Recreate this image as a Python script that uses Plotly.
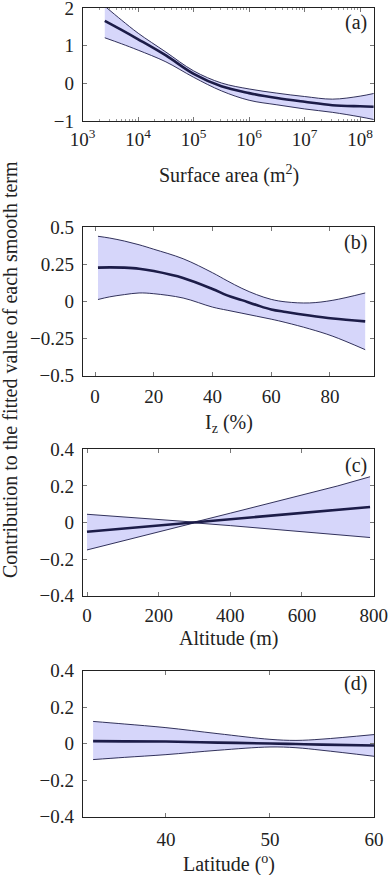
import plotly.graph_objects as go

# ---- data ----
# (a) Surface area (m^2)
area = [2.5e3, 5e3, 1e4, 3.16e4, 1e5, 3.16e5, 1e6, 3.16e6, 1e7, 3.16e7, 1e8, 1.75e8]
area_mean = [1.66, 1.42, 1.17, 0.74, 0.25, -0.08, -0.26, -0.39, -0.49, -0.58, -0.61, -0.62]
area_upper = [2.05, 1.68, 1.33, 0.83, 0.33, 0.01, -0.15, -0.26, -0.35, -0.42, -0.34, -0.27]
area_lower = [1.21, 1.05, 0.88, 0.57, 0.16, -0.20, -0.45, -0.57, -0.68, -0.77, -0.89, -0.96]

# (b) I_z (%)
iz = [1, 5, 10, 15, 20, 30, 40, 45, 50, 55, 60, 65, 73, 81, 92]
iz_mean = [0.226, 0.228, 0.226, 0.219, 0.203, 0.157, 0.083, 0.040, 0.008, -0.025, -0.055, -0.072, -0.096, -0.116, -0.135]
iz_upper = [0.437, 0.425, 0.405, 0.380, 0.350, 0.286, 0.192, 0.138, 0.087, 0.045, 0.013, -0.004, -0.011, 0.007, 0.056]
iz_lower = [0.012, 0.030, 0.045, 0.056, 0.051, 0.022, -0.039, -0.060, -0.080, -0.100, -0.120, -0.143, -0.185, -0.235, -0.325]

# (c) Altitude (m)
alt = [0, 100, 200, 300, 400, 500, 600, 700, 790]
alt_mean = [-0.051, -0.034, -0.017, 0.0, 0.017, 0.034, 0.051, 0.068, 0.085]
alt_upper = [0.045, 0.031, 0.016, 0.002, 0.051, 0.100, 0.150, 0.200, 0.250]
alt_lower = [-0.150, -0.100, -0.050, -0.002, -0.017, -0.033, -0.049, -0.066, -0.082]

# (d) Latitude (deg)
lat = [33, 36, 40, 45, 50, 52.5, 55, 60]
lat_mean = [0.014, 0.013, 0.012, 0.006, 0.001, -0.002, -0.005, -0.010]
lat_upper = [0.122, 0.108, 0.088, 0.055, 0.024, 0.018, 0.025, 0.050]
lat_lower = [-0.087, -0.075, -0.060, -0.036, -0.018, -0.022, -0.036, -0.069]

panel_labels = ["(a)", "(b)", "(c)", "(d)"]
x_titles = ["Surface area (m<sup>2</sup>)", "I<sub>z</sub> (%)", "Altitude (m)", "Latitude (<sup>o</sup>)"]
y_title = "Contribution to the fitted value of each smooth term"
area_tickvals = [1e3, 1e4, 1e5, 1e6, 1e7, 1e8]
area_ticktext = ["10<sup>3</sup>", "10<sup>4</sup>", "10<sup>5</sup>", "10<sup>6</sup>", "10<sup>7</sup>", "10<sup>8</sup>"]

# ---- style ----
W, H = 389, 875
FONT = "Liberation Serif, Times New Roman, Times, serif"
FILL = "rgba(214,214,250,1)"
LINE = "#1c1c48"
TXT = "#222"

def py(p):
    return 1 - p / H

x_dom = [82.7 / W, 374 / W]
y_doms = [
    [py(121.0), py(8.0)],
    [py(375.7), py(226.9)],
    [py(595.7), py(449.3)],
    [py(816.7), py(670.7)],
]

fig = go.Figure()

series = [
    (area, area_mean, area_upper, area_lower, "spline"),
    (iz, iz_mean, iz_upper, iz_lower, "spline"),
    (alt, alt_mean, alt_upper, alt_lower, "linear"),
    (lat, lat_mean, lat_upper, lat_lower, "spline"),
]

for i, (x, m, u, l, shape) in enumerate(series):
    xa = "x" if i == 0 else f"x{i+1}"
    ya = "y" if i == 0 else f"y{i+1}"
    fig.add_trace(go.Scatter(x=x, y=l, mode="lines", line=dict(color=LINE, width=0.9, shape=shape),
                             xaxis=xa, yaxis=ya, showlegend=False, hoverinfo="skip"))
    fig.add_trace(go.Scatter(x=x, y=u, mode="lines", fill="tonexty", fillcolor=FILL,
                             line=dict(color=LINE, width=0.9, shape=shape),
                             xaxis=xa, yaxis=ya, showlegend=False, hoverinfo="skip"))
    fig.add_trace(go.Scatter(x=x, y=m, mode="lines", line=dict(color=LINE, width=2.6, shape=shape),
                             xaxis=xa, yaxis=ya, showlegend=False, hoverinfo="skip"))

axis_common = dict(showline=True, linecolor="#222", linewidth=1, mirror="ticks", automargin=False,
                   ticks="inside", ticklen=4, tickcolor="#777", showgrid=False, zeroline=False,
                   ticklabeloverflow="allow",
                   tickfont=dict(family=FONT, size=19, color=TXT))

x_specs = [
    dict(type="log", range=[3, 8.25], tickvals=area_tickvals, ticktext=area_ticktext, ticklabelstandoff=1,
         minor=dict(ticks="inside", ticklen=2, tickcolor="#999", dtick="D1", showgrid=False)),
    dict(range=[-4.2, 95], tickvals=[0, 20, 40, 60, 80], ticklabelstandoff=3),
    dict(range=[-12, 801], tickvals=[0, 200, 400, 600, 800], ticklabelstandoff=2),
    dict(range=[32, 60], tickvals=[40, 50, 60], ticklabelstandoff=5),
]
y_specs = [
    dict(range=[-1, 2], tickvals=[-1, 0, 1, 2], ticklabelstandoff=4),
    dict(range=[-0.5, 0.5], tickvals=[-0.5, -0.25, 0, 0.25, 0.5], ticklabelstandoff=4,
         ticktext=["\u22120.5", "\u22120.25", "0", "0.25", "0.5"]),
    dict(range=[-0.4, 0.4], tickvals=[-0.4, -0.2, 0, 0.2, 0.4], ticklabelstandoff=4,
         ticktext=["\u22120.4", "\u22120.2", "0", "0.2", "0.4"]),
    dict(range=[-0.4, 0.4], tickvals=[-0.4, -0.2, 0, 0.2, 0.4], ticklabelstandoff=4,
         ticktext=["\u22120.4", "\u22120.2", "0", "0.2", "0.4"]),
]

layout = {}
for i in range(4):
    xk = "xaxis" if i == 0 else f"xaxis{i+1}"
    yk = "yaxis" if i == 0 else f"yaxis{i+1}"
    ya = "y" if i == 0 else f"y{i+1}"
    xa = "x" if i == 0 else f"x{i+1}"
    layout[xk] = dict(domain=x_dom, anchor=ya, **axis_common, **x_specs[i])
    layout[yk] = dict(domain=y_doms[i], anchor=xa, **axis_common, **y_specs[i])

fig.update_layout(**layout)

# x-axis titles
title_py = [175, 423, 638, 863]
label_py = [23, 243, 465, 683]
annotations = []
for i in range(4):
    annotations.append(dict(text=x_titles[i], x=228.5 / W, y=py(title_py[i]), xref="paper", yref="paper",
                            xanchor="center", yanchor="middle", showarrow=False,
                            font=dict(family=FONT, size=20, color=TXT)))
    annotations.append(dict(text=panel_labels[i], x=369 / W, y=py(label_py[i]), xref="paper", yref="paper",
                            xanchor="right", yanchor="middle", showarrow=False,
                            font=dict(family=FONT, size=20, color=TXT)))
annotations.append(dict(text=y_title, x=10 / W, y=py(370), xref="paper", yref="paper",
                        xanchor="center", yanchor="middle", showarrow=False, textangle=-90,
                        font=dict(family=FONT, size=20, color=TXT)))

fig.update_layout(width=W, height=H, margin=dict(l=0, r=0, t=0, b=0, autoexpand=False),
                  paper_bgcolor="white", plot_bgcolor="white", annotations=annotations,
                  font=dict(family=FONT, color=TXT))

fig.write_html("out.html", config={"displayModeBar": False},
               post_script="document.body.style.margin='0';document.body.style.overflow='hidden';")
